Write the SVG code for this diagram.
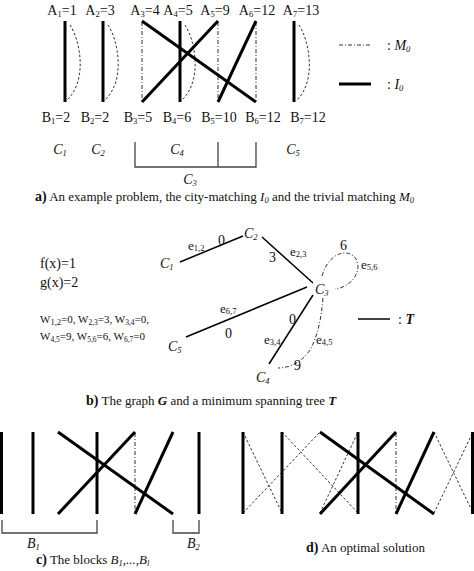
<svg xmlns="http://www.w3.org/2000/svg" width="474" height="571" viewBox="0 0 474 571">
<style>
text{font-family:"Liberation Serif","Times New Roman",serif;fill:#111}
.lab{font-size:14px}
.sub{font-size:8.5px}
.it{font-style:italic}
.cap{font-size:13px}
.bold{font-weight:bold}
.thick{stroke:#000;stroke-width:3;fill:none;stroke-linecap:butt}
.dash{stroke:#333;stroke-width:1;fill:none;stroke-dasharray:2.5,2}
.dd{stroke:#333;stroke-width:1;fill:none;stroke-dasharray:4,2,1,2}
.edge{stroke:#000;stroke-width:1.5;fill:none}
.brk{stroke:#444;stroke-width:1.3;fill:none}
</style>

<!-- Part a -->
<g id="part-a">
  <g id="a-labels" class="lab" text-anchor="middle">
    <text x="62" y="15">A<tspan class="sub" dy="2">1</tspan><tspan dy="-2">=1</tspan></text>
    <text x="100" y="15">A<tspan class="sub" dy="2">2</tspan><tspan dy="-2">=3</tspan></text>
    <text x="145" y="15">A<tspan class="sub" dy="2">3</tspan><tspan dy="-2">=4</tspan></text>
    <text x="178" y="15">A<tspan class="sub" dy="2">4</tspan><tspan dy="-2">=5</tspan></text>
    <text x="215" y="15">A<tspan class="sub" dy="2">5</tspan><tspan dy="-2">=9</tspan></text>
    <text x="257" y="15">A<tspan class="sub" dy="2">6</tspan><tspan dy="-2">=12</tspan></text>
    <text x="301" y="15">A<tspan class="sub" dy="2">7</tspan><tspan dy="-2">=13</tspan></text>
  </g>
  <g id="b-labels" class="lab" text-anchor="middle">
    <text x="56" y="122">B<tspan class="sub" dy="2">1</tspan><tspan dy="-2">=2</tspan></text>
    <text x="95" y="122">B<tspan class="sub" dy="2">2</tspan><tspan dy="-2">=2</tspan></text>
    <text x="138" y="122">B<tspan class="sub" dy="2">3</tspan><tspan dy="-2">=5</tspan></text>
    <text x="177" y="122">B<tspan class="sub" dy="2">4</tspan><tspan dy="-2">=6</tspan></text>
    <text x="219" y="122">B<tspan class="sub" dy="2">5</tspan><tspan dy="-2">=10</tspan></text>
    <text x="263" y="122">B<tspan class="sub" dy="2">6</tspan><tspan dy="-2">=12</tspan></text>
    <text x="308" y="122">B<tspan class="sub" dy="2">7</tspan><tspan dy="-2">=12</tspan></text>
  </g>
  <g id="a-matching">
    <path class="dash" d="M70,25 C80,40 88,80 67,100"/>
    <path class="dash" d="M108,25 C118,40 126,80 105,100"/>
    <path class="dash" d="M185,25 C195,40 203,80 182,100"/>
    <path class="dash" d="M299,25 C309,40 317,80 297,100"/>
    <line class="dd" x1="142" y1="22" x2="142" y2="102"/>
    <line class="dd" x1="218" y1="22" x2="218" y2="102"/>
    <line class="dd" x1="256" y1="22" x2="256" y2="102"/>
    <line class="thick" x1="65" y1="21" x2="65" y2="102"/>
    <line class="thick" x1="103" y1="21" x2="103" y2="102"/>
    <line class="thick" x1="180" y1="21" x2="180" y2="102"/>
    <line class="thick" x1="294" y1="21" x2="294" y2="102"/>
    <line class="thick" x1="142" y1="21" x2="256" y2="102"/>
    <line class="thick" x1="218" y1="21" x2="142" y2="102"/>
    <line class="thick" x1="256" y1="21" x2="218" y2="102"/>
  </g>
  <g id="a-legend">
    <line class="dd" x1="339" y1="45" x2="371" y2="45"/>
    <text class="lab" x="387" y="50">: <tspan class="it">M</tspan><tspan class="sub it" dy="2">0</tspan></text>
    <line class="thick" x1="339" y1="84" x2="371" y2="84"/>
    <text class="lab" x="387" y="89">: <tspan class="it">I</tspan><tspan class="sub it" dy="2">0</tspan></text>
  </g>
  <g id="a-cities" class="lab it" text-anchor="middle">
    <text x="60" y="154">C<tspan class="sub" dy="2">1</tspan></text>
    <text x="98" y="154">C<tspan class="sub" dy="2">2</tspan></text>
    <text x="177" y="154">C<tspan class="sub" dy="2">4</tspan></text>
    <text x="293" y="154">C<tspan class="sub" dy="2">5</tspan></text>
    <text x="190" y="184">C<tspan class="sub" dy="2">3</tspan></text>
  </g>
  <path id="a-bracket" class="brk" d="M135,142 V167 H256 V142 M218,142 V167"/>
  <text class="cap" x="35" y="201"><tspan class="bold" font-size="14">a)</tspan> An example problem, the city-matching <tspan class="it">I</tspan><tspan class="sub it" dy="2">0</tspan><tspan dy="-2"> and the trivial matching </tspan><tspan class="it">M</tspan><tspan class="sub it" dy="2">0</tspan></text>
</g>

<!-- Part b -->
<g id="part-b">
  <g id="b-text" class="lab">
    <text x="40" y="268">f(x)=1</text>
    <text x="40" y="287">g(x)=2</text>
    <text x="40" y="323" font-size="11">W<tspan class="sub" font-size="7.5" dy="1.5">1,2</tspan><tspan dy="-1.5">=0, W</tspan><tspan font-size="7.5" dy="1.5">2,3</tspan><tspan dy="-1.5">=3, W</tspan><tspan font-size="7.5" dy="1.5">3,4</tspan><tspan dy="-1.5">=0,</tspan></text>
    <text x="40" y="340" font-size="11">W<tspan font-size="7.5" dy="1.5">4,5</tspan><tspan dy="-1.5">=9, W</tspan><tspan font-size="7.5" dy="1.5">5,6</tspan><tspan dy="-1.5">=6, W</tspan><tspan font-size="7.5" dy="1.5">6,7</tspan><tspan dy="-1.5">=0</tspan></text>
  </g>
  <g id="connectors">
    <line class="edge" x1="180" y1="262" x2="243" y2="236"/>
    <line class="edge" x1="262" y1="237" x2="313" y2="283"/>
    <line class="edge" x1="186" y1="337" x2="307" y2="287"/>
    <line class="edge" x1="313" y1="295" x2="269" y2="364"/>
    <path class="dd" d="M322,276 C326,262 335,253 345,253 C356,253 360,264 357,272 C354,282 344,288 335,289"/>
    <path class="dd" d="M323,298 C321,320 318,335 310,350 C302,362 290,368 278,368"/>
  </g>
  <g id="node-C1"><text class="lab it" x="160" y="268">C<tspan class="sub" dy="2">1</tspan></text></g>
  <g id="node-C2"><text class="lab it" x="244" y="238">C<tspan class="sub" dy="2">2</tspan></text></g>
  <g id="node-C3"><text class="lab it" x="315" y="294">C<tspan class="sub" dy="2">3</tspan></text></g>
  <g id="node-C4"><text class="lab it" x="256" y="382">C<tspan class="sub" dy="2">4</tspan></text></g>
  <g id="node-C5"><text class="lab it" x="168" y="351">C<tspan class="sub" dy="2">5</tspan></text></g>
  <g id="edge-labels" class="lab">
    <text x="188" y="250" font-size="13">e<tspan class="sub" dy="1">1,2</tspan></text>
    <text x="218" y="245">0</text>
    <text x="269" y="262">3</text>
    <text x="290" y="256" font-size="13">e<tspan class="sub" dy="1">2,3</tspan></text>
    <text x="220" y="313" font-size="13">e<tspan class="sub" dy="1">6,7</tspan></text>
    <text x="225" y="338">0</text>
    <text x="289" y="324">0</text>
    <text x="264" y="344" font-size="13">e<tspan class="sub" dy="1">3,4</tspan></text>
    <text x="316" y="344" font-size="13">e<tspan class="sub" dy="1">4,5</tspan></text>
    <text x="294" y="370">9</text>
    <text x="340" y="250">6</text>
    <text x="361" y="269" font-size="13">e<tspan class="sub" dy="1">5,6</tspan></text>
  </g>
  <g id="b-legend">
    <line class="edge" x1="358" y1="319" x2="390" y2="319"/>
    <text class="lab" x="398" y="324">: <tspan class="it bold">T</tspan></text>
  </g>
  <text class="cap" x="86" y="405"><tspan class="bold" font-size="14">b)</tspan> The graph <tspan class="it bold">G</tspan> and a minimum spanning tree <tspan class="it bold">T</tspan></text>
</g>

<!-- Part c -->
<g id="part-c">
  <line class="dd" x1="135" y1="433" x2="135" y2="513"/>
  <line class="thick" x1="1.5" y1="432" x2="1.5" y2="514"/>
  <line class="thick" x1="33" y1="432" x2="33" y2="514"/>
  <line class="thick" x1="97" y1="432" x2="97" y2="514"/>
  <line class="thick" x1="199" y1="432" x2="199" y2="514"/>
  <line class="thick" x1="58" y1="432" x2="173" y2="514"/>
  <line class="thick" x1="135" y1="432" x2="58" y2="514"/>
  <line class="thick" x1="173" y1="432" x2="135" y2="514"/>
  <path class="brk" d="M2,520 V533 H97 V520 M173,520 V533 H199 V520"/>
  <text class="lab it" x="27" y="548">B<tspan class="sub" dy="2">1</tspan></text>
  <text class="lab it" x="187" y="548">B<tspan class="sub" dy="2">2</tspan></text>
  <text class="cap" x="36" y="564"><tspan class="bold" font-size="14">c)</tspan> The blocks <tspan class="it">B</tspan><tspan class="sub it" dy="2">1</tspan><tspan class="it" dy="-2">,...,B</tspan><tspan class="sub it" dy="2">l</tspan></text>
</g>

<!-- Part d -->
<g id="part-d">
  <line class="dash" x1="243" y1="432" x2="282" y2="513"/>
  <line class="dash" x1="243" y1="513" x2="320" y2="432"/>
  <line class="dash" x1="282" y1="432" x2="358" y2="513"/>
  <line class="dash" x1="320" y1="513" x2="358" y2="432"/>
  <line class="dd" x1="396" y1="433" x2="396" y2="513"/>
  <line class="dash" x1="434" y1="513" x2="473" y2="432"/>
  <line class="dash" x1="434" y1="432" x2="473" y2="513"/>
  <line class="thick" x1="243" y1="432" x2="243" y2="514"/>
  <line class="thick" x1="282" y1="432" x2="282" y2="514"/>
  <line class="thick" x1="358" y1="432" x2="358" y2="514"/>
  <line class="thick" x1="472.5" y1="432" x2="472.5" y2="514"/>
  <line class="thick" x1="320" y1="432" x2="434" y2="514"/>
  <line class="thick" x1="396" y1="432" x2="320" y2="514"/>
  <line class="thick" x1="434" y1="432" x2="396" y2="514"/>
  <text class="cap" x="306" y="552"><tspan class="bold" font-size="14">d)</tspan> An optimal solution</text>
</g>
</svg>
